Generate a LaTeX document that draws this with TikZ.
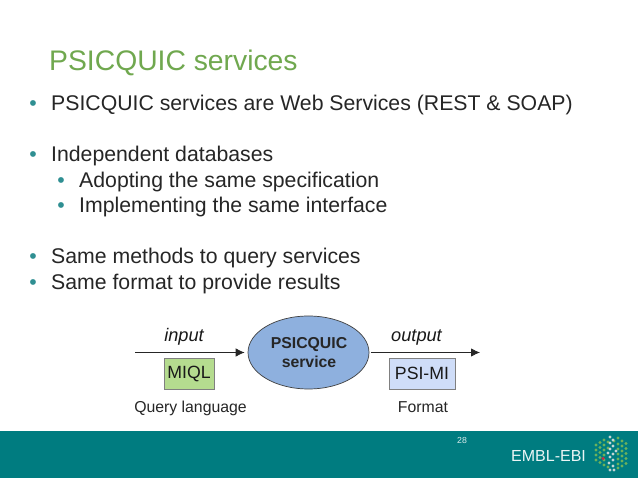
\documentclass[tikz,border=0pt]{standalone}
\usepackage{fontspec}
\setmainfont{Liberation Sans}
\usetikzlibrary{shapes.geometric,arrows.meta}
\definecolor{titlegreen}{HTML}{70A84F}
\definecolor{tealbar}{HTML}{007C80}
\definecolor{bodytext}{HTML}{262626}
\definecolor{bulletcol}{HTML}{2F8F92}
\definecolor{ellfill}{HTML}{8EB0DE}
\definecolor{miqlfill}{HTML}{B5DC8F}
\definecolor{psifill}{HTML}{CFDDF8}
\definecolor{logogreen}{HTML}{6DB25A}
\definecolor{logogrey}{HTML}{C5D5D5}
\definecolor{logored}{HTML}{C0304A}
\tikzset{
 x=1pt,y=-1pt,
 txt/.style={inner sep=0pt,anchor=base west,text=bodytext,font=\fontsize{21.25pt}{24pt}\selectfont},
 bul/.style={inner sep=0pt,anchor=base east,text=bulletcol,font=\fontsize{21.25pt}{24pt}\selectfont},
 lab/.style={inner sep=0pt,anchor=base,text=black!85,font=\fontsize{15.8pt}{18pt}\selectfont},
 ital/.style={inner sep=0pt,anchor=base,text=black!90,font=\fontsize{18.2pt}{20pt}\selectfont\itshape},
 box/.style={draw=black!50,line width=0.8pt,inner sep=0pt,text=black!90,font=\fontsize{17.7pt}{20pt}\selectfont},
 arr/.style={draw=black!85,line width=0.8pt,-{Latex[length=9pt,width=8.5pt]}},
 svctxt/.style={inner sep=0pt,anchor=base,text=black!85,font=\fontsize{15.8pt}{18pt}\selectfont\bfseries},
 gdot/.style={circle,fill=logogreen,inner sep=0pt,minimum size=3.4pt},
 wdot/.style={circle,fill=logogrey,inner sep=0pt,minimum size=3.4pt}
}
\begin{document}
\begin{tikzpicture}
\useasboundingbox (0,0) rectangle (638,478);
\fill[white] (0,0) rectangle (638,478);
\fill[tealbar] (0,431) rectangle (638,478);
\node[inner sep=0pt,anchor=base west,text=titlegreen,font=\fontsize{28.3pt}{32pt}\selectfont] (title) at (49,71) {PSICQUIC services};
\foreach \n/\x/\y/\t in {a/51/111/{PSICQUIC services are Web Services (REST \& SOAP)},
 b/51/161.5/{Independent databases},
 c/79/187.5/{Adopting the same specification},
 d/79/212.5/{Implementing the same interface},
 e/51/263.5/{Same methods to query services},
 f/51/289.5/{Same format to provide results}}{
 \node[txt] (\n) at (\x,\y) {\t};
 \node[bul] (\n b) at ([xshift=-14pt]\x,\y) {•};
}
\node[ellipse,draw=black!75,line width=0.7pt,fill=ellfill,minimum width=121pt,minimum height=73pt,inner sep=0pt] (svc) at (308.5,352.5) {};
\node[svctxt] (svc1) at (309,348.5) {PSICQUIC};
\node[svctxt] (svc2) at (309,368) {service};
\coordinate (inL) at (135,352.5);
\coordinate (outR) at (480,352.5);
\draw[arr,shorten >=3pt] (inL) -- (svc.west);
\draw[arr,shorten <=1.5pt] (svc.east) -- (outR);
\node[ital] (input) at (184,342) {input};
\node[ital] (output) at (416.5,342) {output};
\node[box,fill=miqlfill,minimum width=50pt,minimum height=31pt] (miql) at (189,373.5) {MIQL};
\node[box,fill=psifill,minimum width=66pt,minimum height=31pt] (psi) at (422,373.5) {PSI-MI};
\node[lab] (ql) at (190.5,413) {Query language};
\node[lab] (fmt) at (423,413) {Format};
\node[inner sep=0pt,anchor=base,text=white!85!tealbar,font=\fontsize{8.75pt}{10pt}\selectfont] (num) at (462,444) {28};
\node[inner sep=0pt,anchor=base west,text=white!92!tealbar,font=\fontsize{16pt}{18pt}\selectfont] (embl) at (511,461.5) {EMBL-EBI};
% logo
\foreach \x/\y in {604/440,600/442.5,596/445,600/447.5,596/450,600/452.5,596/455,600/457.5,596/460,600/462.5,604/465,608/467,
 618/438,622/441,626/443.5,622/446,626/448.5,622/451,626/453.5,622/456,626/458.5,622/461,626/463.5,622/466,618/468,
 604/445,604/450,604/455,604/460,608/442,608/448,618/444,618/449,618/454,618/459,618/464,614/441}{
 \node[gdot] at (\x,\y) {};
}
\foreach \x/\y in {610/437,613/440,610/443,613/446,610/449,608/453,610/457,613/460,613/466,610/470,614/470,616/451,613/454,609/463}{
 \node[wdot] at (\x,\y) {};
}
\node[circle,fill=logored,inner sep=0pt,minimum size=3.5pt] at (603,458.5) {};
\end{tikzpicture}
\end{document}
